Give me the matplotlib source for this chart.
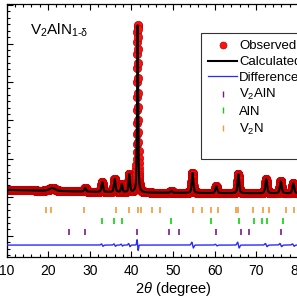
import numpy as np
import matplotlib
matplotlib.use("Agg")
import matplotlib.pyplot as plt
from matplotlib.lines import Line2D
from matplotlib.ticker import MultipleLocator

plt.rcParams["font.family"] = ["Liberation Sans", "DejaVu Sans"]
plt.rcParams["mathtext.fontset"] = "custom"
plt.rcParams["mathtext.rm"] = "Liberation Sans"
plt.rcParams["mathtext.it"] = "Liberation Sans:italic"

# reflections: position (deg), height above background (counts), FWHM (deg)
peak_pos = [21.0, 28.9, 33.0, 36.0, 37.7, 39.5, 41.5, 49.6, 54.7, 60.4, 65.7, 72.4, 75.9, 78.9]
peak_height = [150, 200, 520, 680, 420, 940, 8700, 100, 1040, 360, 990, 730, 620, 520]
peak_fwhm = [1.6, 0.5, 0.45, 0.45, 0.4, 0.4, 0.3, 0.5, 0.45, 0.5, 0.45, 0.5, 0.5, 0.5]
# misfit seen in the difference curve at each reflection
diff_amp = [0, 0, 60, 60, 50, 80, 280, 0, 150, 40, 150, 80, 80, 60]

bg_pos = [10, 20, 30, 40, 60, 90]
bg_level = [2390, 2340, 2290, 2250, 2220, 2200]

# Bragg positions
v2aln_ticks = [25.1, 28.9, 41.4, 49.1, 51.5, 60.4, 66.4, 68.3, 75.9]
aln_ticks = [33.0, 35.9, 37.8, 49.6, 59.2, 65.9, 69.5, 71.4, 72.6, 76.4]
v2n_ticks = [19.6, 20.8, 28.5, 36.4, 39.5, 41.7, 42.4, 45.0, 46.9, 54.8, 57.0,
             59.2, 60.8, 65.2, 65.6, 69.2, 71.6, 73.1, 77.1, 79.1]

diff_offset = -480
row_v2aln = 200
row_aln = 770
row_v2n = 1340


def pvoigt(x, p, h, w, eta=0.5):
    g = np.exp(-4 * np.log(2) * ((x - p) / w) ** 2)
    l = 1 / (1 + 4 * ((x - p) / w) ** 2)
    return h * (eta * l + (1 - eta) * g)


tt = np.arange(10, 90.001, 0.02)
calc = np.interp(tt, bg_pos, bg_level).astype(float)
diff = np.zeros_like(tt)
for p, h, w, a in zip(peak_pos, peak_height, peak_fwhm, diff_amp):
    calc += pvoigt(tt, p, h, w)
    s = w / 2.355
    diff += -a * (tt - p) / s * np.exp(-0.5 * ((tt - p) / s) ** 2) * np.exp(0.5)
obs = calc + diff

fig = plt.figure(figsize=(2.97, 2.97), dpi=100)
ax = fig.add_axes([6.5 / 297, 40 / 297, 333 / 297, 253 / 297])

ax.plot(tt, obs, "o", ms=6, mfc="#ff1010", mec="#c00000", mew=0.5, zorder=2)
ax.plot(tt, calc, color="k", lw=1.5, zorder=3)
ax.plot(tt, obs - calc + diff_offset, color="#2a2aff", lw=1.0, zorder=3)

ax.plot(v2aln_ticks, [row_v2aln] * len(v2aln_ticks), "|", color="#7a1a8a", ms=5, mew=1.2)
ax.plot(aln_ticks, [row_aln] * len(aln_ticks), "|", color="#10d010", ms=5, mew=1.2)
ax.plot(v2n_ticks, [row_v2n] * len(v2n_ticks), "|", color="#f39a3a", ms=5, mew=1.2)

ax.set_xlim(10, 90)
ax.set_ylim(-1100, 12056)
ax.xaxis.set_major_locator(MultipleLocator(10))
ax.xaxis.set_minor_locator(MultipleLocator(2))
ax.yaxis.set_major_locator(MultipleLocator(2000))
ax.yaxis.set_minor_locator(MultipleLocator(2000 / 6))
ax.tick_params(which="both", direction="in", top=True, right=True, labelsize=10, width=0.8)
ax.tick_params(which="major", length=4, pad=5)
ax.tick_params(which="minor", length=2)
ax.tick_params(axis="y", labelleft=False)
for sp in ax.spines.values():
    sp.set_linewidth(0.9)

ax.set_xlabel(r"2$\it{\theta}$ (degree)", fontsize=10.5, labelpad=1.5)
ax.text(0.0706, 0.881, r"V$_\mathregular{2}$AlN$_{\text{1-δ}}$", transform=ax.transAxes,
        fontsize=11, va="baseline")

handles = [
    Line2D([], [], marker="o", ls="none", ms=5, mfc="#ff1010", mec="#c00000", mew=0.5),
    Line2D([], [], color="k", lw=1.5),
    Line2D([], [], color="#2a2aff", lw=0.9),
    Line2D([], [], marker="|", ls="none", color="#7a1a8a", ms=5, mew=1.0),
    Line2D([], [], marker="|", ls="none", color="#10d010", ms=5, mew=1.0),
    Line2D([], [], marker="|", ls="none", color="#f39a3a", ms=5, mew=1.0),
    Line2D([], [], ls="none"),
]
labels = ["Observed", "Calculated", "Difference", r"V$_2$AlN", "AlN", r"V$_2$N", " "]
leg = fig.legend(handles, labels, loc="upper left", bbox_to_anchor=(201 / 297, 1 - 33 / 297),
                 frameon=True, fancybox=False, edgecolor="black", fontsize=9.5,
                 handlelength=2.2, handletextpad=0.15, labelspacing=0.26, borderpad=0.55,
                 borderaxespad=0)
leg.get_frame().set_linewidth(0.8)

fig.savefig("out.png", dpi=100)
